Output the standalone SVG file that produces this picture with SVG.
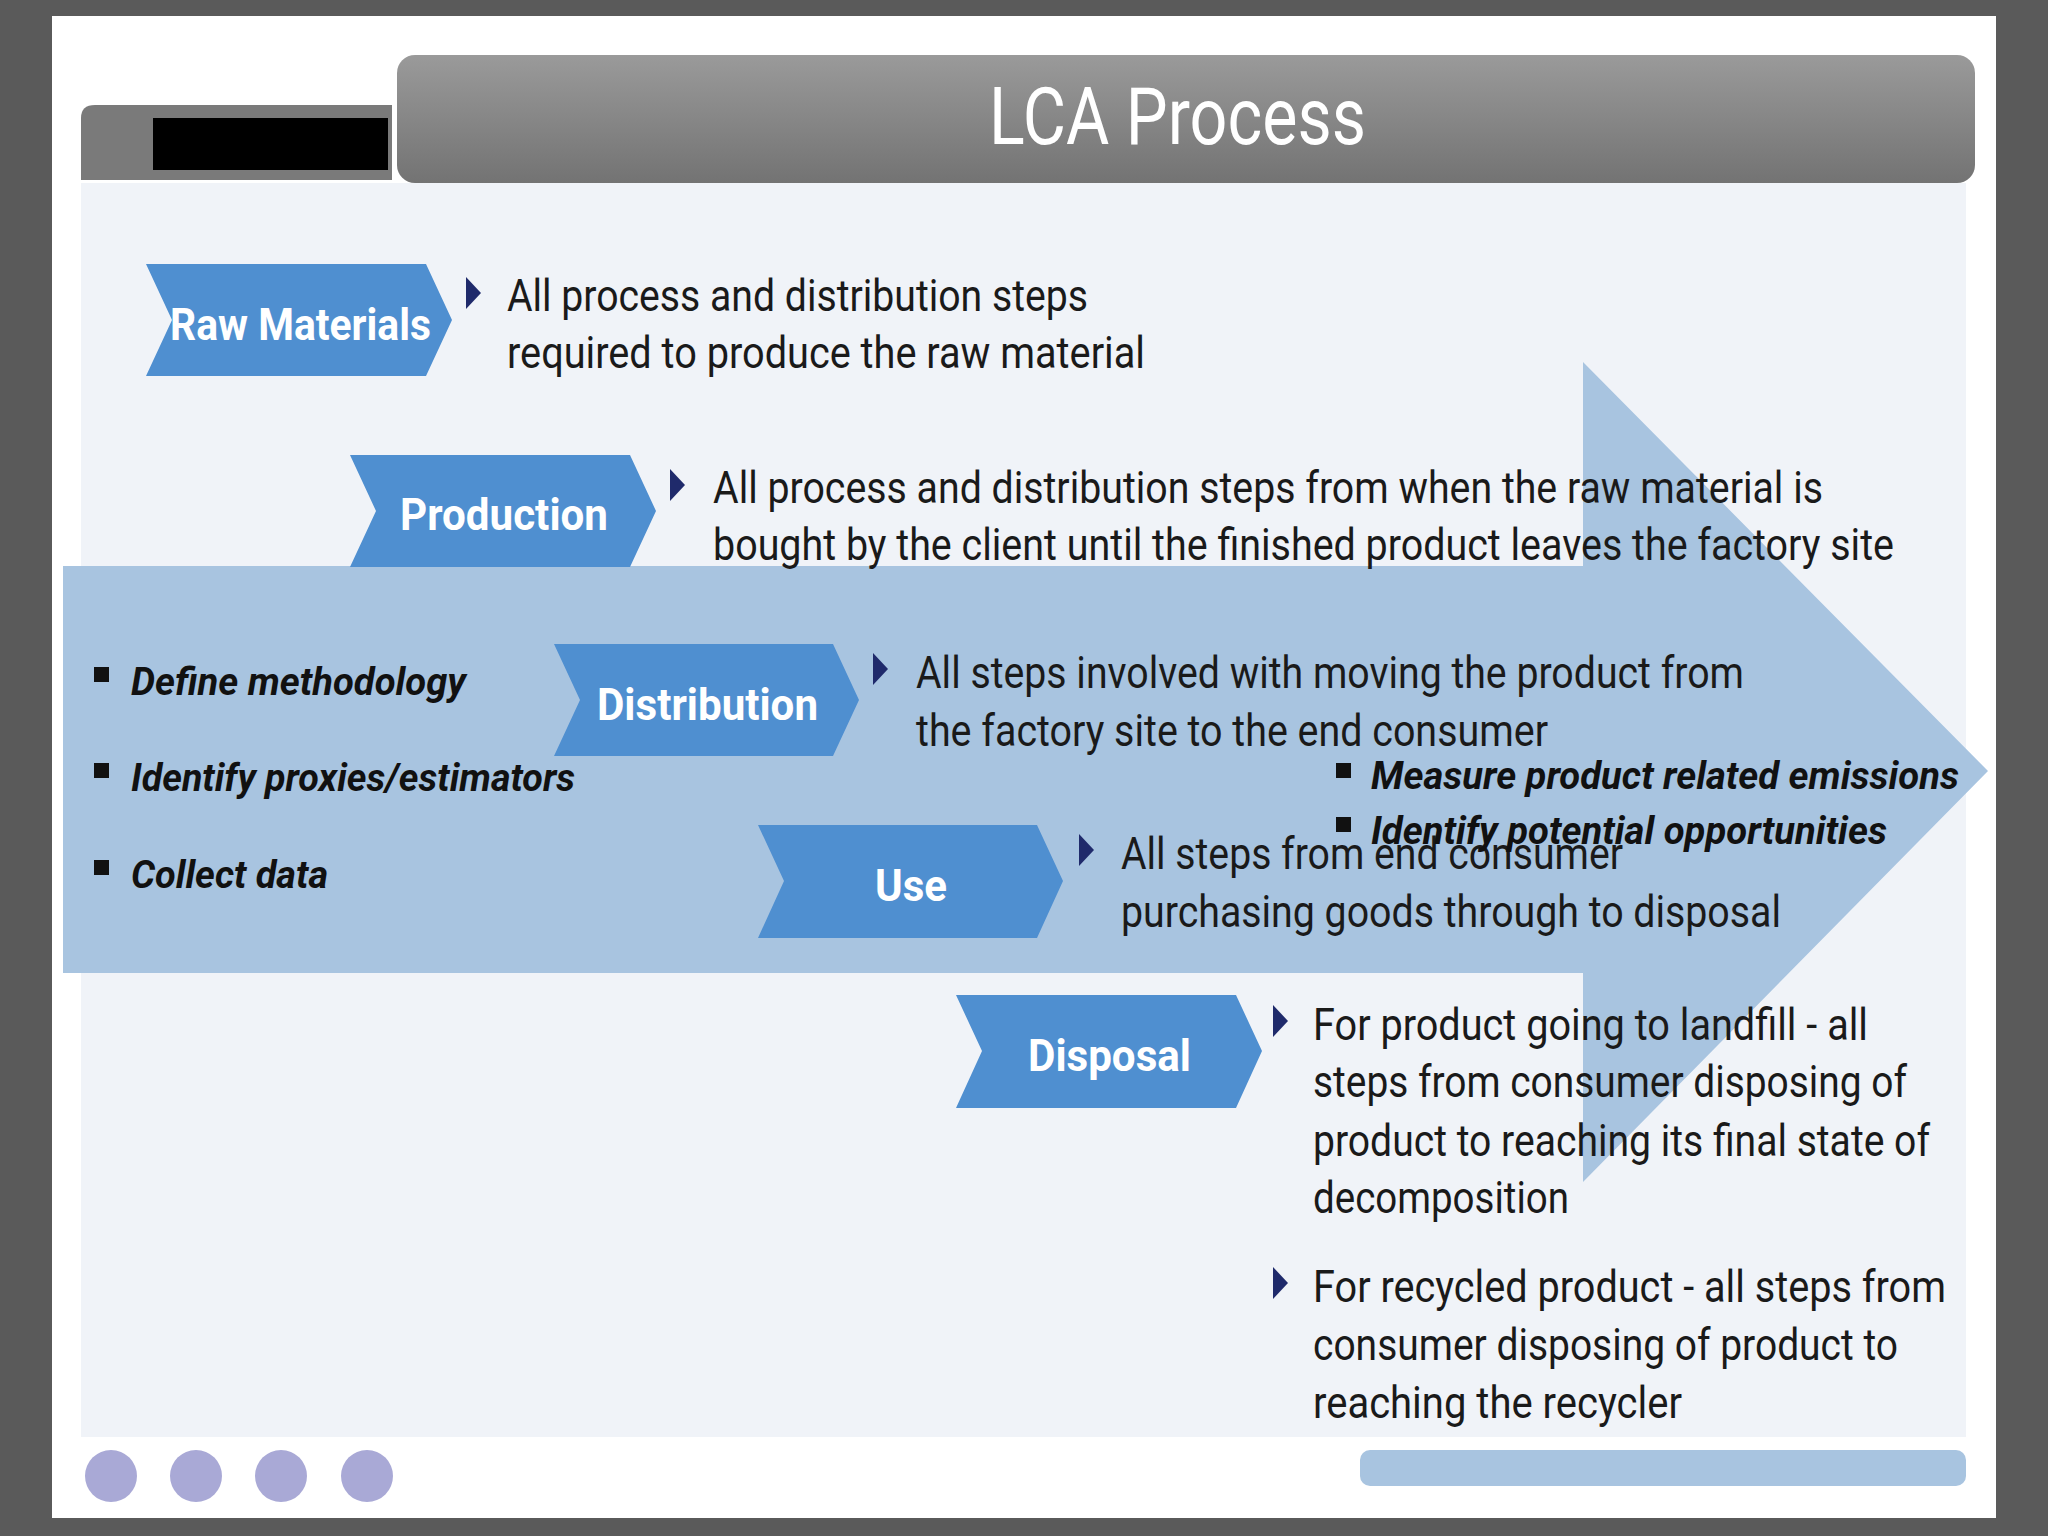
<svg xmlns="http://www.w3.org/2000/svg" width="2048" height="1536" viewBox="0 0 2048 1536">
<defs>
<linearGradient id="tg" x1="0" y1="0" x2="0" y2="1"><stop offset="0" stop-color="#9a9a9a"/><stop offset="1" stop-color="#737373"/></linearGradient>
<style>
.t{font-family:Roboto,"Liberation Sans",sans-serif;font-size:44px;fill:#1a1a1a}
.b{font-family:Roboto,"Liberation Sans",sans-serif;font-size:39px;font-weight:bold;font-style:italic;fill:#111}
.l{font-family:Roboto,"Liberation Sans",sans-serif;font-size:44px;font-weight:bold;fill:#fff}
.ch{fill:#4f8fd0}
.tri{fill:#1f2a6b}
.sq{fill:#111}
</style>
</defs>
<rect width="2048" height="1536" fill="#5a5a5a"/>
<rect x="52" y="16" width="1944" height="1502" fill="#fff"/>
<rect x="81" y="183" width="1885" height="1254" fill="#f0f3f8"/>
<g id="tab"><path d="M81 118 Q81 105 95 105 L392 105 L392 180 L81 180 Z" fill="#7a7a7a"/><rect x="153" y="118" width="235" height="52" fill="#000"/></g>
<g id="title"><rect x="397" y="55" width="1578" height="128" rx="18" fill="url(#tg)"/>
<text x="989" y="144" font-family="Roboto,'Liberation Sans',sans-serif" font-size="80" fill="#fff" textLength="377" lengthAdjust="spacingAndGlyphs">LCA Process</text></g>
<g id="bigarrow"><path d="M63 566 L1583 566 L1583 362 L1988 771 L1583 1182 L1583 973 L63 973 Z" fill="#a8c4e0"/></g>
<g id="raw"><path class="ch" d="M146 264 L426 264 L452 320 L426 376 L146 376 L172 320 Z"/><text class="l" x="170" y="340" textLength="261" lengthAdjust="spacingAndGlyphs">Raw Materials</text></g>
<g id="production"><path class="ch" d="M350 455 L630 455 L656 511 L630 567 L350 567 L376 511 Z"/><text class="l" x="400" y="530" textLength="208" lengthAdjust="spacingAndGlyphs">Production</text></g>
<g id="distribution"><path class="ch" d="M554 644 L833 644 L859 700 L833 756 L554 756 L580 700 Z"/><text class="l" x="597" y="720" textLength="221" lengthAdjust="spacingAndGlyphs">Distribution</text></g>
<g id="use"><path class="ch" d="M758 825 L1037 825 L1063 881 L1037 938 L758 938 L784 881 Z"/><text class="l" x="875" y="901" textLength="72" lengthAdjust="spacingAndGlyphs">Use</text></g>
<g id="disposal"><path class="ch" d="M956 995 L1236 995 L1262 1051 L1236 1108 L956 1108 L982 1051 Z"/><text class="l" x="1028" y="1071" textLength="163" lengthAdjust="spacingAndGlyphs">Disposal</text></g>
<g id="descriptions">
<path class="tri" d="M466 277 L481 293 L466 309 Z"/>
<text class="t" x="507" y="311" textLength="581" lengthAdjust="spacingAndGlyphs">All process and distribution steps</text>
<text class="t" x="507" y="368" textLength="638" lengthAdjust="spacingAndGlyphs">required to produce the raw material</text>
<path class="tri" d="M670 469 L685 485 L670 501 Z"/>
<text class="t" x="713" y="503" textLength="1110" lengthAdjust="spacingAndGlyphs">All process and distribution steps from when the raw material is</text>
<text class="t" x="713" y="560" textLength="1181" lengthAdjust="spacingAndGlyphs">bought by the client until the finished product leaves the factory site</text>
<path class="tri" d="M873 653 L888 669 L873 685 Z"/>
<text class="t" x="916" y="688" textLength="828" lengthAdjust="spacingAndGlyphs">All steps involved with moving the product from</text>
<text class="t" x="916" y="746" textLength="632" lengthAdjust="spacingAndGlyphs">the factory site to the end consumer</text>
<path class="tri" d="M1079 834 L1094 850 L1079 866 Z"/>
<text class="t" x="1121" y="869" textLength="502" lengthAdjust="spacingAndGlyphs">All steps from end consumer</text>
<text class="t" x="1121" y="927" textLength="660" lengthAdjust="spacingAndGlyphs">purchasing goods through to disposal</text>
<path class="tri" d="M1273 1005 L1288 1021 L1273 1037 Z"/>
<text class="t" x="1313" y="1040" textLength="555" lengthAdjust="spacingAndGlyphs">For product going to landfill - all</text>
<text class="t" x="1313" y="1097" textLength="594" lengthAdjust="spacingAndGlyphs">steps from consumer disposing of</text>
<text class="t" x="1313" y="1156" textLength="617" lengthAdjust="spacingAndGlyphs">product to reaching its final state of</text>
<text class="t" x="1313" y="1213" textLength="256" lengthAdjust="spacingAndGlyphs">decomposition</text>
<path class="tri" d="M1273 1267 L1288 1283 L1273 1299 Z"/>
<text class="t" x="1313" y="1302" textLength="633" lengthAdjust="spacingAndGlyphs">For recycled product - all steps from</text>
<text class="t" x="1313" y="1360" textLength="585" lengthAdjust="spacingAndGlyphs">consumer disposing of product to</text>
<text class="t" x="1313" y="1418" textLength="369" lengthAdjust="spacingAndGlyphs">reaching the recycler</text>
</g>
<g id="leftbullets">
<rect class="sq" x="94" y="667" width="15" height="15"/><text class="b" x="131" y="695" textLength="335" lengthAdjust="spacingAndGlyphs">Define methodology</text>
<rect class="sq" x="94" y="763" width="15" height="15"/><text class="b" x="131" y="791" textLength="444" lengthAdjust="spacingAndGlyphs">Identify proxies/estimators</text>
<rect class="sq" x="94" y="860" width="15" height="15"/><text class="b" x="131" y="888" textLength="197" lengthAdjust="spacingAndGlyphs">Collect data</text>
</g>
<g id="rightbullets">
<rect class="sq" x="1336" y="763" width="15" height="15"/><text class="b" x="1371" y="789" textLength="588" lengthAdjust="spacingAndGlyphs">Measure product related emissions</text>
<rect class="sq" x="1336" y="817" width="15" height="15"/><text class="b" x="1371" y="844" textLength="516" lengthAdjust="spacingAndGlyphs">Identify potential opportunities</text>
</g>
<g id="footer">
<circle cx="111" cy="1476" r="26" fill="#a9a9d6"/><circle cx="196" cy="1476" r="26" fill="#a9a9d6"/><circle cx="281" cy="1476" r="26" fill="#a9a9d6"/><circle cx="367" cy="1476" r="26" fill="#a9a9d6"/>
<rect x="1360" y="1450" width="606" height="36" rx="10" fill="#a8c4e0"/>
</g>
</svg>
